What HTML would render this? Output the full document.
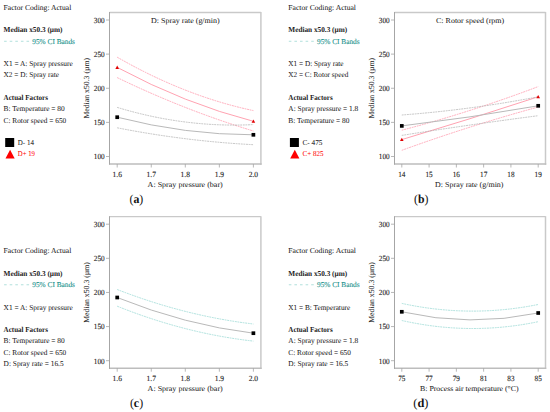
<!DOCTYPE html>
<html><head><meta charset="utf-8"><title>Median x50.3 response plots</title>
<style>
html,body{margin:0;padding:0;background:#fff;}
body{width:550px;height:412px;overflow:hidden;}
svg{display:block;}
text{font-family:"Liberation Serif", serif;text-rendering:geometricPrecision;}
</style></head><body>
<svg width="550" height="412" viewBox="0 0 550 412" font-family="'Liberation Serif', serif">
<rect width="550" height="412" fill="#fff"/>
<text x="3.60" y="9.90" font-size="7.5" textLength="67.70" lengthAdjust="spacingAndGlyphs" fill="#222" stroke="#222" stroke-width="0.05">Factor Coding: Actual</text>
<text x="3.60" y="32.42" font-size="7.5" textLength="58.90" lengthAdjust="spacingAndGlyphs" font-weight="bold" fill="#222">Median x50.3 (µm)</text>
<line x1="4.10" y1="41.28" x2="29.60" y2="41.28" stroke="#b2e0dc" stroke-width="1" stroke-dasharray="2.6 3"/>
<text x="32.30" y="43.68" font-size="7.5" textLength="42.60" lengthAdjust="spacingAndGlyphs" fill="#23938d" stroke="#23938d" stroke-width="0.12">95% CI Bands</text>
<text x="3.60" y="66.20" font-size="7.5" textLength="69.10" lengthAdjust="spacingAndGlyphs" fill="#222" stroke="#222" stroke-width="0.05">X1 = A: Spray pressure</text>
<text x="3.60" y="77.46" font-size="7.5" textLength="55.30" lengthAdjust="spacingAndGlyphs" fill="#222" stroke="#222" stroke-width="0.05">X2 = D: Spray rate</text>
<text x="3.60" y="99.98" font-size="7.5" textLength="44.40" lengthAdjust="spacingAndGlyphs" font-weight="bold" fill="#222">Actual Factors</text>
<text x="3.60" y="111.24" font-size="7.5" textLength="61.10" lengthAdjust="spacingAndGlyphs" fill="#222" stroke="#222" stroke-width="0.05">B: Temperature = 80</text>
<text x="3.60" y="122.50" font-size="7.5" textLength="62.60" lengthAdjust="spacingAndGlyphs" fill="#222" stroke="#222" stroke-width="0.05">C: Rotor speed = 650</text>
<rect x="5.20" y="138.00" width="9" height="9" fill="#000"/>
<polygon points="5.50,158.60 14.70,158.60 10.10,149.70" fill="#ff0000"/>
<text x="17.80" y="145.30" font-size="7.5" textLength="16.10" lengthAdjust="spacingAndGlyphs" fill="#222" stroke="#222" stroke-width="0.05">D- 14</text>
<text x="17.80" y="156.20" font-size="7.5" textLength="17.20" lengthAdjust="spacingAndGlyphs" fill="#ff0000" stroke="#ff0000" stroke-width="0.05">D+ 19</text>
<line x1="109.50" y1="12.50" x2="260.90" y2="12.50" stroke="#c9c9c9" stroke-width="1.3"/>
<line x1="260.90" y1="12.00" x2="260.90" y2="164.75" stroke="#c9c9c9" stroke-width="1.5"/>
<line x1="109.50" y1="164.00" x2="261.65" y2="164.00" stroke="#bdbdbd" stroke-width="1.5"/>
<line x1="109.50" y1="12.00" x2="109.50" y2="164.75" stroke="#a6a6a6" stroke-width="1"/>
<line x1="106.00" y1="20.00" x2="109.50" y2="20.00" stroke="#a6a6a6" stroke-width="0.8"/>
<text x="104.70" y="22.80" font-size="7.9" textLength="10.90" lengthAdjust="spacingAndGlyphs" text-anchor="end" fill="#1a1a1a" stroke="#1a1a1a" stroke-width="0.1">300</text>
<line x1="106.00" y1="54.12" x2="109.50" y2="54.12" stroke="#a6a6a6" stroke-width="0.8"/>
<text x="104.70" y="56.92" font-size="7.9" textLength="10.90" lengthAdjust="spacingAndGlyphs" text-anchor="end" fill="#1a1a1a" stroke="#1a1a1a" stroke-width="0.1">250</text>
<line x1="106.00" y1="88.25" x2="109.50" y2="88.25" stroke="#a6a6a6" stroke-width="0.8"/>
<text x="104.70" y="91.05" font-size="7.9" textLength="10.90" lengthAdjust="spacingAndGlyphs" text-anchor="end" fill="#1a1a1a" stroke="#1a1a1a" stroke-width="0.1">200</text>
<line x1="106.00" y1="122.38" x2="109.50" y2="122.38" stroke="#a6a6a6" stroke-width="0.8"/>
<text x="104.70" y="125.17" font-size="7.9" textLength="10.90" lengthAdjust="spacingAndGlyphs" text-anchor="end" fill="#1a1a1a" stroke="#1a1a1a" stroke-width="0.1">150</text>
<line x1="106.00" y1="156.50" x2="109.50" y2="156.50" stroke="#a6a6a6" stroke-width="0.8"/>
<text x="104.70" y="159.30" font-size="7.9" textLength="10.90" lengthAdjust="spacingAndGlyphs" text-anchor="end" fill="#1a1a1a" stroke="#1a1a1a" stroke-width="0.1">100</text>
<line x1="117.20" y1="164.00" x2="117.20" y2="167.50" stroke="#a6a6a6" stroke-width="0.8"/>
<text x="117.20" y="176.70" font-size="7.9" textLength="9.40" lengthAdjust="spacingAndGlyphs" text-anchor="middle" fill="#1a1a1a" stroke="#1a1a1a" stroke-width="0.1">1.6</text>
<line x1="151.25" y1="164.00" x2="151.25" y2="167.50" stroke="#a6a6a6" stroke-width="0.8"/>
<text x="151.25" y="176.70" font-size="7.9" textLength="9.40" lengthAdjust="spacingAndGlyphs" text-anchor="middle" fill="#1a1a1a" stroke="#1a1a1a" stroke-width="0.1">1.7</text>
<line x1="185.30" y1="164.00" x2="185.30" y2="167.50" stroke="#a6a6a6" stroke-width="0.8"/>
<text x="185.30" y="176.70" font-size="7.9" textLength="9.40" lengthAdjust="spacingAndGlyphs" text-anchor="middle" fill="#1a1a1a" stroke="#1a1a1a" stroke-width="0.1">1.8</text>
<line x1="219.35" y1="164.00" x2="219.35" y2="167.50" stroke="#a6a6a6" stroke-width="0.8"/>
<text x="219.35" y="176.70" font-size="7.9" textLength="9.40" lengthAdjust="spacingAndGlyphs" text-anchor="middle" fill="#1a1a1a" stroke="#1a1a1a" stroke-width="0.1">1.9</text>
<line x1="253.40" y1="164.00" x2="253.40" y2="167.50" stroke="#a6a6a6" stroke-width="0.8"/>
<text x="253.40" y="176.70" font-size="7.9" textLength="9.40" lengthAdjust="spacingAndGlyphs" text-anchor="middle" fill="#1a1a1a" stroke="#1a1a1a" stroke-width="0.1">2.0</text>
<text x="151.10" y="22.80" font-size="7.5" textLength="68.60" lengthAdjust="spacingAndGlyphs" fill="#222" stroke="#222" stroke-width="0.05">D: Spray rate (g/min)</text>
<text x="89.20" y="88.25" font-size="7.7" textLength="60.70" lengthAdjust="spacingAndGlyphs" text-anchor="middle" fill="#222" stroke="#222" stroke-width="0.05" transform="rotate(-90 89.20 88.25)">Median x50.3 (µm)</text>
<text x="147.60" y="186.90" font-size="7.5" textLength="75.20" lengthAdjust="spacingAndGlyphs" fill="#222" stroke="#222" stroke-width="0.05">A: Spray pressure (bar)</text>
<text x="129.50" y="202.60" font-size="12.3" textLength="13.80" lengthAdjust="spacingAndGlyphs" fill="#111">(<tspan font-weight="bold">a</tspan>)</text>
<path d="M117.20,57.20 Q185.30,96.25 253.40,110.60" fill="none" stroke="#ffa0b2" stroke-width="0.9" stroke-dasharray="1.8 0.8"/>
<path d="M117.20,77.60 Q185.30,110.50 253.40,131.00" fill="none" stroke="#ffa0b2" stroke-width="0.9" stroke-dasharray="1.8 0.8"/>
<path d="M117.20,67.40 Q185.30,103.85 253.40,121.30" fill="none" stroke="#ff97a8" stroke-width="0.9"/>
<path d="M117.20,107.40 Q185.30,128.00 253.40,124.60" fill="none" stroke="#b4b4b4" stroke-width="0.8" stroke-dasharray="1.8 0.8"/>
<path d="M117.20,127.80 Q185.30,141.15 253.40,144.70" fill="none" stroke="#b4b4b4" stroke-width="0.8" stroke-dasharray="1.8 0.8"/>
<path d="M117.20,117.20 Q185.30,134.75 253.40,134.80" fill="none" stroke="#b9b9b9" stroke-width="1.0"/>
<rect x="115.35" y="115.35" width="3.7" height="3.7" fill="#000"/>
<rect x="251.55" y="132.95" width="3.7" height="3.7" fill="#000"/>
<polygon points="115.40,68.91 119.00,68.91 117.20,65.60" fill="#e00000"/>
<polygon points="251.60,122.81 255.20,122.81 253.40,119.50" fill="#e00000"/>
<text x="288.30" y="9.90" font-size="7.5" textLength="67.70" lengthAdjust="spacingAndGlyphs" fill="#222" stroke="#222" stroke-width="0.05">Factor Coding: Actual</text>
<text x="288.30" y="32.42" font-size="7.5" textLength="58.90" lengthAdjust="spacingAndGlyphs" font-weight="bold" fill="#222">Median x50.3 (µm)</text>
<line x1="288.80" y1="41.28" x2="314.30" y2="41.28" stroke="#b2e0dc" stroke-width="1" stroke-dasharray="2.6 3"/>
<text x="317.00" y="43.68" font-size="7.5" textLength="42.60" lengthAdjust="spacingAndGlyphs" fill="#23938d" stroke="#23938d" stroke-width="0.12">95% CI Bands</text>
<text x="288.30" y="66.20" font-size="7.5" textLength="55.30" lengthAdjust="spacingAndGlyphs" fill="#222" stroke="#222" stroke-width="0.05">X1 = D: Spray rate</text>
<text x="288.30" y="77.46" font-size="7.5" textLength="60.00" lengthAdjust="spacingAndGlyphs" fill="#222" stroke="#222" stroke-width="0.05">X2 = C: Rotor speed</text>
<text x="288.30" y="99.98" font-size="7.5" textLength="44.40" lengthAdjust="spacingAndGlyphs" font-weight="bold" fill="#222">Actual Factors</text>
<text x="288.30" y="111.24" font-size="7.5" textLength="70.00" lengthAdjust="spacingAndGlyphs" fill="#222" stroke="#222" stroke-width="0.05">A: Spray pressure = 1.8</text>
<text x="288.30" y="122.50" font-size="7.5" textLength="61.10" lengthAdjust="spacingAndGlyphs" fill="#222" stroke="#222" stroke-width="0.05">B: Temperature = 80</text>
<rect x="289.90" y="138.00" width="9" height="9" fill="#000"/>
<polygon points="290.20,158.60 299.40,158.60 294.80,149.70" fill="#ff0000"/>
<text x="302.50" y="145.30" font-size="7.5" textLength="20.00" lengthAdjust="spacingAndGlyphs" fill="#222" stroke="#222" stroke-width="0.05">C- 475</text>
<text x="302.50" y="156.20" font-size="7.5" textLength="21.00" lengthAdjust="spacingAndGlyphs" fill="#ff0000" stroke="#ff0000" stroke-width="0.05">C+ 825</text>
<line x1="394.50" y1="12.50" x2="545.50" y2="12.50" stroke="#c9c9c9" stroke-width="1.3"/>
<line x1="545.50" y1="12.00" x2="545.50" y2="164.75" stroke="#c9c9c9" stroke-width="1.5"/>
<line x1="394.50" y1="164.00" x2="546.25" y2="164.00" stroke="#bdbdbd" stroke-width="1.5"/>
<line x1="394.50" y1="12.00" x2="394.50" y2="164.75" stroke="#a6a6a6" stroke-width="1"/>
<line x1="391.00" y1="20.00" x2="394.50" y2="20.00" stroke="#a6a6a6" stroke-width="0.8"/>
<text x="389.70" y="22.80" font-size="7.9" textLength="10.90" lengthAdjust="spacingAndGlyphs" text-anchor="end" fill="#1a1a1a" stroke="#1a1a1a" stroke-width="0.1">300</text>
<line x1="391.00" y1="54.12" x2="394.50" y2="54.12" stroke="#a6a6a6" stroke-width="0.8"/>
<text x="389.70" y="56.92" font-size="7.9" textLength="10.90" lengthAdjust="spacingAndGlyphs" text-anchor="end" fill="#1a1a1a" stroke="#1a1a1a" stroke-width="0.1">250</text>
<line x1="391.00" y1="88.25" x2="394.50" y2="88.25" stroke="#a6a6a6" stroke-width="0.8"/>
<text x="389.70" y="91.05" font-size="7.9" textLength="10.90" lengthAdjust="spacingAndGlyphs" text-anchor="end" fill="#1a1a1a" stroke="#1a1a1a" stroke-width="0.1">200</text>
<line x1="391.00" y1="122.38" x2="394.50" y2="122.38" stroke="#a6a6a6" stroke-width="0.8"/>
<text x="389.70" y="125.17" font-size="7.9" textLength="10.90" lengthAdjust="spacingAndGlyphs" text-anchor="end" fill="#1a1a1a" stroke="#1a1a1a" stroke-width="0.1">150</text>
<line x1="391.00" y1="156.50" x2="394.50" y2="156.50" stroke="#a6a6a6" stroke-width="0.8"/>
<text x="389.70" y="159.30" font-size="7.9" textLength="10.90" lengthAdjust="spacingAndGlyphs" text-anchor="end" fill="#1a1a1a" stroke="#1a1a1a" stroke-width="0.1">100</text>
<line x1="401.80" y1="164.00" x2="401.80" y2="167.50" stroke="#a6a6a6" stroke-width="0.8"/>
<text x="401.80" y="176.70" font-size="7.9" textLength="7.20" lengthAdjust="spacingAndGlyphs" text-anchor="middle" fill="#1a1a1a" stroke="#1a1a1a" stroke-width="0.1">14</text>
<line x1="429.08" y1="164.00" x2="429.08" y2="167.50" stroke="#a6a6a6" stroke-width="0.8"/>
<text x="429.08" y="176.70" font-size="7.9" textLength="7.20" lengthAdjust="spacingAndGlyphs" text-anchor="middle" fill="#1a1a1a" stroke="#1a1a1a" stroke-width="0.1">15</text>
<line x1="456.36" y1="164.00" x2="456.36" y2="167.50" stroke="#a6a6a6" stroke-width="0.8"/>
<text x="456.36" y="176.70" font-size="7.9" textLength="7.20" lengthAdjust="spacingAndGlyphs" text-anchor="middle" fill="#1a1a1a" stroke="#1a1a1a" stroke-width="0.1">16</text>
<line x1="483.64" y1="164.00" x2="483.64" y2="167.50" stroke="#a6a6a6" stroke-width="0.8"/>
<text x="483.64" y="176.70" font-size="7.9" textLength="7.20" lengthAdjust="spacingAndGlyphs" text-anchor="middle" fill="#1a1a1a" stroke="#1a1a1a" stroke-width="0.1">17</text>
<line x1="510.92" y1="164.00" x2="510.92" y2="167.50" stroke="#a6a6a6" stroke-width="0.8"/>
<text x="510.92" y="176.70" font-size="7.9" textLength="7.20" lengthAdjust="spacingAndGlyphs" text-anchor="middle" fill="#1a1a1a" stroke="#1a1a1a" stroke-width="0.1">18</text>
<line x1="538.20" y1="164.00" x2="538.20" y2="167.50" stroke="#a6a6a6" stroke-width="0.8"/>
<text x="538.20" y="176.70" font-size="7.9" textLength="7.20" lengthAdjust="spacingAndGlyphs" text-anchor="middle" fill="#1a1a1a" stroke="#1a1a1a" stroke-width="0.1">19</text>
<text x="436.00" y="22.80" font-size="7.5" textLength="68.20" lengthAdjust="spacingAndGlyphs" fill="#222" stroke="#222" stroke-width="0.05">C: Rotor speed (rpm)</text>
<text x="374.20" y="88.25" font-size="7.7" textLength="60.70" lengthAdjust="spacingAndGlyphs" text-anchor="middle" fill="#222" stroke="#222" stroke-width="0.05" transform="rotate(-90 374.20 88.25)">Median x50.3 (µm)</text>
<text x="435.10" y="186.90" font-size="7.5" textLength="68.40" lengthAdjust="spacingAndGlyphs" fill="#222" stroke="#222" stroke-width="0.05">D: Spray rate (g/min)</text>
<text x="414.00" y="202.60" font-size="12.3" textLength="14.40" lengthAdjust="spacingAndGlyphs" fill="#111">(<tspan font-weight="bold">b</tspan>)</text>
<path d="M401.80,130.20 Q470.00,112.40 538.20,86.60" fill="none" stroke="#ffa0b2" stroke-width="0.9" stroke-dasharray="1.8 0.8"/>
<path d="M401.80,150.30 Q470.00,125.65 538.20,107.00" fill="none" stroke="#ffa0b2" stroke-width="0.9" stroke-dasharray="1.8 0.8"/>
<path d="M401.80,139.60 Q470.00,119.20 538.20,96.80" fill="none" stroke="#ff97a8" stroke-width="0.9"/>
<path d="M401.80,115.00 Q470.00,109.90 538.20,96.80" fill="none" stroke="#b4b4b4" stroke-width="0.8" stroke-dasharray="1.8 0.8"/>
<path d="M401.80,135.40 Q470.00,124.55 538.20,115.70" fill="none" stroke="#b4b4b4" stroke-width="0.8" stroke-dasharray="1.8 0.8"/>
<path d="M401.80,125.90 Q470.00,117.85 538.20,105.80" fill="none" stroke="#b9b9b9" stroke-width="1.0"/>
<rect x="399.95" y="124.05" width="3.7" height="3.7" fill="#000"/>
<rect x="536.35" y="103.95" width="3.7" height="3.7" fill="#000"/>
<polygon points="400.00,141.11 403.60,141.11 401.80,137.80" fill="#e00000"/>
<polygon points="536.40,98.31 540.00,98.31 538.20,95.00" fill="#e00000"/>
<text x="3.60" y="253.40" font-size="7.5" textLength="67.70" lengthAdjust="spacingAndGlyphs" fill="#222" stroke="#222" stroke-width="0.05">Factor Coding: Actual</text>
<text x="3.60" y="275.92" font-size="7.5" textLength="58.90" lengthAdjust="spacingAndGlyphs" font-weight="bold" fill="#222">Median x50.3 (µm)</text>
<line x1="4.10" y1="284.78" x2="29.60" y2="284.78" stroke="#b2e0dc" stroke-width="1" stroke-dasharray="2.6 3"/>
<text x="32.30" y="287.18" font-size="7.5" textLength="42.60" lengthAdjust="spacingAndGlyphs" fill="#23938d" stroke="#23938d" stroke-width="0.12">95% CI Bands</text>
<text x="3.60" y="309.70" font-size="7.5" textLength="69.10" lengthAdjust="spacingAndGlyphs" fill="#222" stroke="#222" stroke-width="0.05">X1 = A: Spray pressure</text>
<text x="3.60" y="332.22" font-size="7.5" textLength="44.40" lengthAdjust="spacingAndGlyphs" font-weight="bold" fill="#222">Actual Factors</text>
<text x="3.60" y="343.48" font-size="7.5" textLength="61.10" lengthAdjust="spacingAndGlyphs" fill="#222" stroke="#222" stroke-width="0.05">B: Temperature = 80</text>
<text x="3.60" y="354.74" font-size="7.5" textLength="62.60" lengthAdjust="spacingAndGlyphs" fill="#222" stroke="#222" stroke-width="0.05">C: Rotor speed = 650</text>
<text x="3.60" y="366.00" font-size="7.5" textLength="60.00" lengthAdjust="spacingAndGlyphs" fill="#222" stroke="#222" stroke-width="0.05">D: Spray rate = 16.5</text>
<line x1="109.50" y1="216.70" x2="260.90" y2="216.70" stroke="#c9c9c9" stroke-width="1.3"/>
<line x1="260.90" y1="216.20" x2="260.90" y2="368.95" stroke="#c9c9c9" stroke-width="1.5"/>
<line x1="109.50" y1="368.20" x2="261.65" y2="368.20" stroke="#bdbdbd" stroke-width="1.5"/>
<line x1="109.50" y1="216.20" x2="109.50" y2="368.95" stroke="#a6a6a6" stroke-width="1"/>
<line x1="106.00" y1="224.20" x2="109.50" y2="224.20" stroke="#a6a6a6" stroke-width="0.8"/>
<text x="104.70" y="227.00" font-size="7.9" textLength="10.90" lengthAdjust="spacingAndGlyphs" text-anchor="end" fill="#1a1a1a" stroke="#1a1a1a" stroke-width="0.1">300</text>
<line x1="106.00" y1="258.32" x2="109.50" y2="258.32" stroke="#a6a6a6" stroke-width="0.8"/>
<text x="104.70" y="261.12" font-size="7.9" textLength="10.90" lengthAdjust="spacingAndGlyphs" text-anchor="end" fill="#1a1a1a" stroke="#1a1a1a" stroke-width="0.1">250</text>
<line x1="106.00" y1="292.45" x2="109.50" y2="292.45" stroke="#a6a6a6" stroke-width="0.8"/>
<text x="104.70" y="295.25" font-size="7.9" textLength="10.90" lengthAdjust="spacingAndGlyphs" text-anchor="end" fill="#1a1a1a" stroke="#1a1a1a" stroke-width="0.1">200</text>
<line x1="106.00" y1="326.57" x2="109.50" y2="326.57" stroke="#a6a6a6" stroke-width="0.8"/>
<text x="104.70" y="329.38" font-size="7.9" textLength="10.90" lengthAdjust="spacingAndGlyphs" text-anchor="end" fill="#1a1a1a" stroke="#1a1a1a" stroke-width="0.1">150</text>
<line x1="106.00" y1="360.70" x2="109.50" y2="360.70" stroke="#a6a6a6" stroke-width="0.8"/>
<text x="104.70" y="363.50" font-size="7.9" textLength="10.90" lengthAdjust="spacingAndGlyphs" text-anchor="end" fill="#1a1a1a" stroke="#1a1a1a" stroke-width="0.1">100</text>
<line x1="117.20" y1="368.20" x2="117.20" y2="371.70" stroke="#a6a6a6" stroke-width="0.8"/>
<text x="117.20" y="380.90" font-size="7.9" textLength="9.40" lengthAdjust="spacingAndGlyphs" text-anchor="middle" fill="#1a1a1a" stroke="#1a1a1a" stroke-width="0.1">1.6</text>
<line x1="151.25" y1="368.20" x2="151.25" y2="371.70" stroke="#a6a6a6" stroke-width="0.8"/>
<text x="151.25" y="380.90" font-size="7.9" textLength="9.40" lengthAdjust="spacingAndGlyphs" text-anchor="middle" fill="#1a1a1a" stroke="#1a1a1a" stroke-width="0.1">1.7</text>
<line x1="185.30" y1="368.20" x2="185.30" y2="371.70" stroke="#a6a6a6" stroke-width="0.8"/>
<text x="185.30" y="380.90" font-size="7.9" textLength="9.40" lengthAdjust="spacingAndGlyphs" text-anchor="middle" fill="#1a1a1a" stroke="#1a1a1a" stroke-width="0.1">1.8</text>
<line x1="219.35" y1="368.20" x2="219.35" y2="371.70" stroke="#a6a6a6" stroke-width="0.8"/>
<text x="219.35" y="380.90" font-size="7.9" textLength="9.40" lengthAdjust="spacingAndGlyphs" text-anchor="middle" fill="#1a1a1a" stroke="#1a1a1a" stroke-width="0.1">1.9</text>
<line x1="253.40" y1="368.20" x2="253.40" y2="371.70" stroke="#a6a6a6" stroke-width="0.8"/>
<text x="253.40" y="380.90" font-size="7.9" textLength="9.40" lengthAdjust="spacingAndGlyphs" text-anchor="middle" fill="#1a1a1a" stroke="#1a1a1a" stroke-width="0.1">2.0</text>
<text x="89.20" y="292.45" font-size="7.7" textLength="60.70" lengthAdjust="spacingAndGlyphs" text-anchor="middle" fill="#222" stroke="#222" stroke-width="0.05" transform="rotate(-90 89.20 292.45)">Median x50.3 (µm)</text>
<text x="147.60" y="391.10" font-size="7.5" textLength="75.20" lengthAdjust="spacingAndGlyphs" fill="#222" stroke="#222" stroke-width="0.05">A: Spray pressure (bar)</text>
<text x="129.90" y="406.80" font-size="12.3" textLength="13.20" lengthAdjust="spacingAndGlyphs" fill="#111">(<tspan font-weight="bold">c</tspan>)</text>
<path d="M117.20,289.50 Q185.30,316.00 253.40,324.00" fill="none" stroke="#a3dcd8" stroke-width="0.9" stroke-dasharray="1.8 0.8"/>
<path d="M117.20,306.20 Q185.30,333.50 253.40,341.10" fill="none" stroke="#a3dcd8" stroke-width="0.9" stroke-dasharray="1.8 0.8"/>
<path d="M117.20,297.50 Q185.30,325.00 253.40,333.20" fill="none" stroke="#b9b9b9" stroke-width="1.0"/>
<rect x="115.35" y="295.65" width="3.7" height="3.7" fill="#000"/>
<rect x="251.55" y="331.35" width="3.7" height="3.7" fill="#000"/>
<text x="288.30" y="253.40" font-size="7.5" textLength="67.70" lengthAdjust="spacingAndGlyphs" fill="#222" stroke="#222" stroke-width="0.05">Factor Coding: Actual</text>
<text x="288.30" y="275.92" font-size="7.5" textLength="58.90" lengthAdjust="spacingAndGlyphs" font-weight="bold" fill="#222">Median x50.3 (µm)</text>
<line x1="288.80" y1="284.78" x2="314.30" y2="284.78" stroke="#b2e0dc" stroke-width="1" stroke-dasharray="2.6 3"/>
<text x="317.00" y="287.18" font-size="7.5" textLength="42.60" lengthAdjust="spacingAndGlyphs" fill="#23938d" stroke="#23938d" stroke-width="0.12">95% CI Bands</text>
<text x="288.30" y="309.70" font-size="7.5" textLength="61.90" lengthAdjust="spacingAndGlyphs" fill="#222" stroke="#222" stroke-width="0.05">X1 = B: Temperature</text>
<text x="288.30" y="332.22" font-size="7.5" textLength="44.40" lengthAdjust="spacingAndGlyphs" font-weight="bold" fill="#222">Actual Factors</text>
<text x="288.30" y="343.48" font-size="7.5" textLength="70.00" lengthAdjust="spacingAndGlyphs" fill="#222" stroke="#222" stroke-width="0.05">A: Spray pressure = 1.8</text>
<text x="288.30" y="354.74" font-size="7.5" textLength="62.60" lengthAdjust="spacingAndGlyphs" fill="#222" stroke="#222" stroke-width="0.05">C: Rotor speed = 650</text>
<text x="288.30" y="366.00" font-size="7.5" textLength="60.00" lengthAdjust="spacingAndGlyphs" fill="#222" stroke="#222" stroke-width="0.05">D: Spray rate = 16.5</text>
<line x1="394.50" y1="216.70" x2="545.50" y2="216.70" stroke="#c9c9c9" stroke-width="1.3"/>
<line x1="545.50" y1="216.20" x2="545.50" y2="368.95" stroke="#c9c9c9" stroke-width="1.5"/>
<line x1="394.50" y1="368.20" x2="546.25" y2="368.20" stroke="#bdbdbd" stroke-width="1.5"/>
<line x1="394.50" y1="216.20" x2="394.50" y2="368.95" stroke="#a6a6a6" stroke-width="1"/>
<line x1="391.00" y1="224.20" x2="394.50" y2="224.20" stroke="#a6a6a6" stroke-width="0.8"/>
<text x="389.70" y="227.00" font-size="7.9" textLength="10.90" lengthAdjust="spacingAndGlyphs" text-anchor="end" fill="#1a1a1a" stroke="#1a1a1a" stroke-width="0.1">300</text>
<line x1="391.00" y1="258.32" x2="394.50" y2="258.32" stroke="#a6a6a6" stroke-width="0.8"/>
<text x="389.70" y="261.12" font-size="7.9" textLength="10.90" lengthAdjust="spacingAndGlyphs" text-anchor="end" fill="#1a1a1a" stroke="#1a1a1a" stroke-width="0.1">250</text>
<line x1="391.00" y1="292.45" x2="394.50" y2="292.45" stroke="#a6a6a6" stroke-width="0.8"/>
<text x="389.70" y="295.25" font-size="7.9" textLength="10.90" lengthAdjust="spacingAndGlyphs" text-anchor="end" fill="#1a1a1a" stroke="#1a1a1a" stroke-width="0.1">200</text>
<line x1="391.00" y1="326.57" x2="394.50" y2="326.57" stroke="#a6a6a6" stroke-width="0.8"/>
<text x="389.70" y="329.38" font-size="7.9" textLength="10.90" lengthAdjust="spacingAndGlyphs" text-anchor="end" fill="#1a1a1a" stroke="#1a1a1a" stroke-width="0.1">150</text>
<line x1="391.00" y1="360.70" x2="394.50" y2="360.70" stroke="#a6a6a6" stroke-width="0.8"/>
<text x="389.70" y="363.50" font-size="7.9" textLength="10.90" lengthAdjust="spacingAndGlyphs" text-anchor="end" fill="#1a1a1a" stroke="#1a1a1a" stroke-width="0.1">100</text>
<line x1="401.80" y1="368.20" x2="401.80" y2="371.70" stroke="#a6a6a6" stroke-width="0.8"/>
<text x="401.80" y="380.90" font-size="7.9" textLength="7.20" lengthAdjust="spacingAndGlyphs" text-anchor="middle" fill="#1a1a1a" stroke="#1a1a1a" stroke-width="0.1">75</text>
<line x1="429.08" y1="368.20" x2="429.08" y2="371.70" stroke="#a6a6a6" stroke-width="0.8"/>
<text x="429.08" y="380.90" font-size="7.9" textLength="7.20" lengthAdjust="spacingAndGlyphs" text-anchor="middle" fill="#1a1a1a" stroke="#1a1a1a" stroke-width="0.1">77</text>
<line x1="456.36" y1="368.20" x2="456.36" y2="371.70" stroke="#a6a6a6" stroke-width="0.8"/>
<text x="456.36" y="380.90" font-size="7.9" textLength="7.20" lengthAdjust="spacingAndGlyphs" text-anchor="middle" fill="#1a1a1a" stroke="#1a1a1a" stroke-width="0.1">79</text>
<line x1="483.64" y1="368.20" x2="483.64" y2="371.70" stroke="#a6a6a6" stroke-width="0.8"/>
<text x="483.64" y="380.90" font-size="7.9" textLength="7.20" lengthAdjust="spacingAndGlyphs" text-anchor="middle" fill="#1a1a1a" stroke="#1a1a1a" stroke-width="0.1">81</text>
<line x1="510.92" y1="368.20" x2="510.92" y2="371.70" stroke="#a6a6a6" stroke-width="0.8"/>
<text x="510.92" y="380.90" font-size="7.9" textLength="7.20" lengthAdjust="spacingAndGlyphs" text-anchor="middle" fill="#1a1a1a" stroke="#1a1a1a" stroke-width="0.1">83</text>
<line x1="538.20" y1="368.20" x2="538.20" y2="371.70" stroke="#a6a6a6" stroke-width="0.8"/>
<text x="538.20" y="380.90" font-size="7.9" textLength="7.20" lengthAdjust="spacingAndGlyphs" text-anchor="middle" fill="#1a1a1a" stroke="#1a1a1a" stroke-width="0.1">85</text>
<text x="374.20" y="292.45" font-size="7.7" textLength="60.70" lengthAdjust="spacingAndGlyphs" text-anchor="middle" fill="#222" stroke="#222" stroke-width="0.05" transform="rotate(-90 374.20 292.45)">Median x50.3 (µm)</text>
<text x="420.00" y="391.10" font-size="7.5" textLength="98.60" lengthAdjust="spacingAndGlyphs" fill="#222" stroke="#222" stroke-width="0.05">B: Process air temperature (°C)</text>
<text x="413.30" y="406.80" font-size="12.3" textLength="15.10" lengthAdjust="spacingAndGlyphs" fill="#111">(<tspan font-weight="bold">d</tspan>)</text>
<path d="M401.80,303.40 Q470.00,318.25 538.20,304.50" fill="none" stroke="#a3dcd8" stroke-width="0.9" stroke-dasharray="1.8 0.8"/>
<path d="M401.80,320.50 Q470.00,335.90 538.20,321.70" fill="none" stroke="#a3dcd8" stroke-width="0.9" stroke-dasharray="1.8 0.8"/>
<path d="M401.80,311.80 Q470.00,327.40 538.20,313.00" fill="none" stroke="#b9b9b9" stroke-width="1.0"/>
<rect x="399.95" y="309.95" width="3.7" height="3.7" fill="#000"/>
<rect x="536.35" y="311.15" width="3.7" height="3.7" fill="#000"/>
</svg>
</body></html>
